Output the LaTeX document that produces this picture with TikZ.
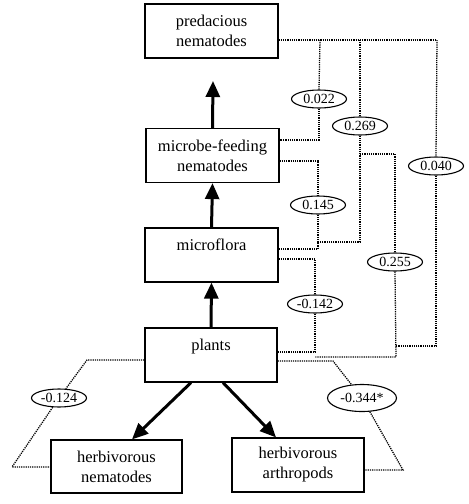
\documentclass[tikz,border=0pt]{standalone}
\usepackage{fontspec}
\setmainfont{Liberation Serif}
\usetikzlibrary{arrows.meta,shapes.geometric}
\begin{document}
\begin{tikzpicture}[x=1pt,y=-1pt,
  box/.style={draw,line width=1.2pt,minimum width=133pt,minimum height=54pt,inner sep=0pt,align=center,font=\fontsize{16.5}{20}\selectfont},
  oval/.style={draw,ellipse,line width=1.1pt,minimum width=55pt,minimum height=18pt,inner sep=0pt,font=\fontsize{14}{15}\selectfont},
  dot/.style={line width=1.3pt,dash pattern=on 1.2pt off 1pt},
  bigarrow/.style={line width=3pt,-{Triangle[length=16pt,width=14pt]}}]
\useasboundingbox (0,0) rectangle (469,504);
% boxes
\node[box] (pred) at (211.5,31) {predacious\\nematodes};
\node[box] (mf) at (212.5,155.5) {microbe-feeding\\nematodes};
\node[box] (micro) at (211.5,255) {microflora\\\mbox{}};
\node[box,minimum width=132pt] (plants) at (211,355) {plants\\\mbox{}};
\node[box,minimum width=131pt,minimum height=53pt] (nem) at (116.5,466.5) {herbivorous\\nematodes};
\node[box,minimum width=132pt] (arth) at (298,465) {herbivorous\\arthropods};
% ovals
\node[oval] (o022) at (319,99) {0.022};
\node[oval] (o269) at (360,126) {0.269};
\node[oval] (o145) at (318,205) {0.145};
\node[oval] (o040) at (436,166) {0.040};
\node[oval] (o255) at (395,262) {0.255};
\node[oval] (o142) at (315,304) {-0.142};
\node[oval] (o124) at (59,398) {-0.124};
\node[oval,minimum width=69pt,minimum height=27pt] (o344) at (362,398) {-0.344*};
% helper coordinates
\coordinate (t1) at (320,40);
\coordinate (t2) at (360,40);
\coordinate (t3) at (437,40);
\coordinate (j1) at (360,154);
\coordinate (j2) at (396,346);
\coordinate (j3) at (315,357);
\coordinate (predtip) at (213,81);
\coordinate (r1) at (333,361);
\coordinate (r2) at (403,470);
\coordinate (l1) at (87,360);
\coordinate (l2) at (12,467);
% thick arrows
\draw[bigarrow] (plants.north) -- (micro.south);
\draw[bigarrow] (micro.north) -- (mf.south);
\draw[bigarrow] (mf.north) -- (predtip);
\draw[bigarrow] ([xshift=-20pt]plants.south) -- ([xshift=15.5pt]nem.north);
\draw[bigarrow] ([xshift=12pt]plants.south) -- ([xshift=-22pt]arth.north);
% dotted connectors
\draw[dot] (pred.east |- t3) -- (t3);
\draw[dot] (t1) -- (o022.north);
\draw[dot] (o022.south) |- (mf.east |- 0,140);
\draw[dot] (t2) -- (o269.north);
\draw[dot] (o269.south) -- (360,242) -- (318,242) -- (318,249);
\draw[dot] (j1) -| (o255.north);
\draw[dot] (o255.south) -- (396,357) -- (j3);
\draw[dot] (t3) -- (o040.north);
\draw[dot] (o040.south) |- (j2);
\draw[dot] (mf.east |- 0,161) -| (o145.north);
\draw[dot] (o145.south) |- (micro.east |- 0,249);
\draw[dot] (micro.east |- 0,259) -| (o142.north);
\draw[dot] (o142.south) |- (plants.east |- 0,352);
\draw[dot] (plants.east |- r1) -- (r1) -- (o344);
\draw[dot] (o344) -- (r2) -- (arth.east |- r2);
\draw[dot] (plants.west |- l1) -- (l1) -- (o124);
\draw[dot] (o124) -- (l2) -- (nem.west |- l2);
\end{tikzpicture}
\end{document}
